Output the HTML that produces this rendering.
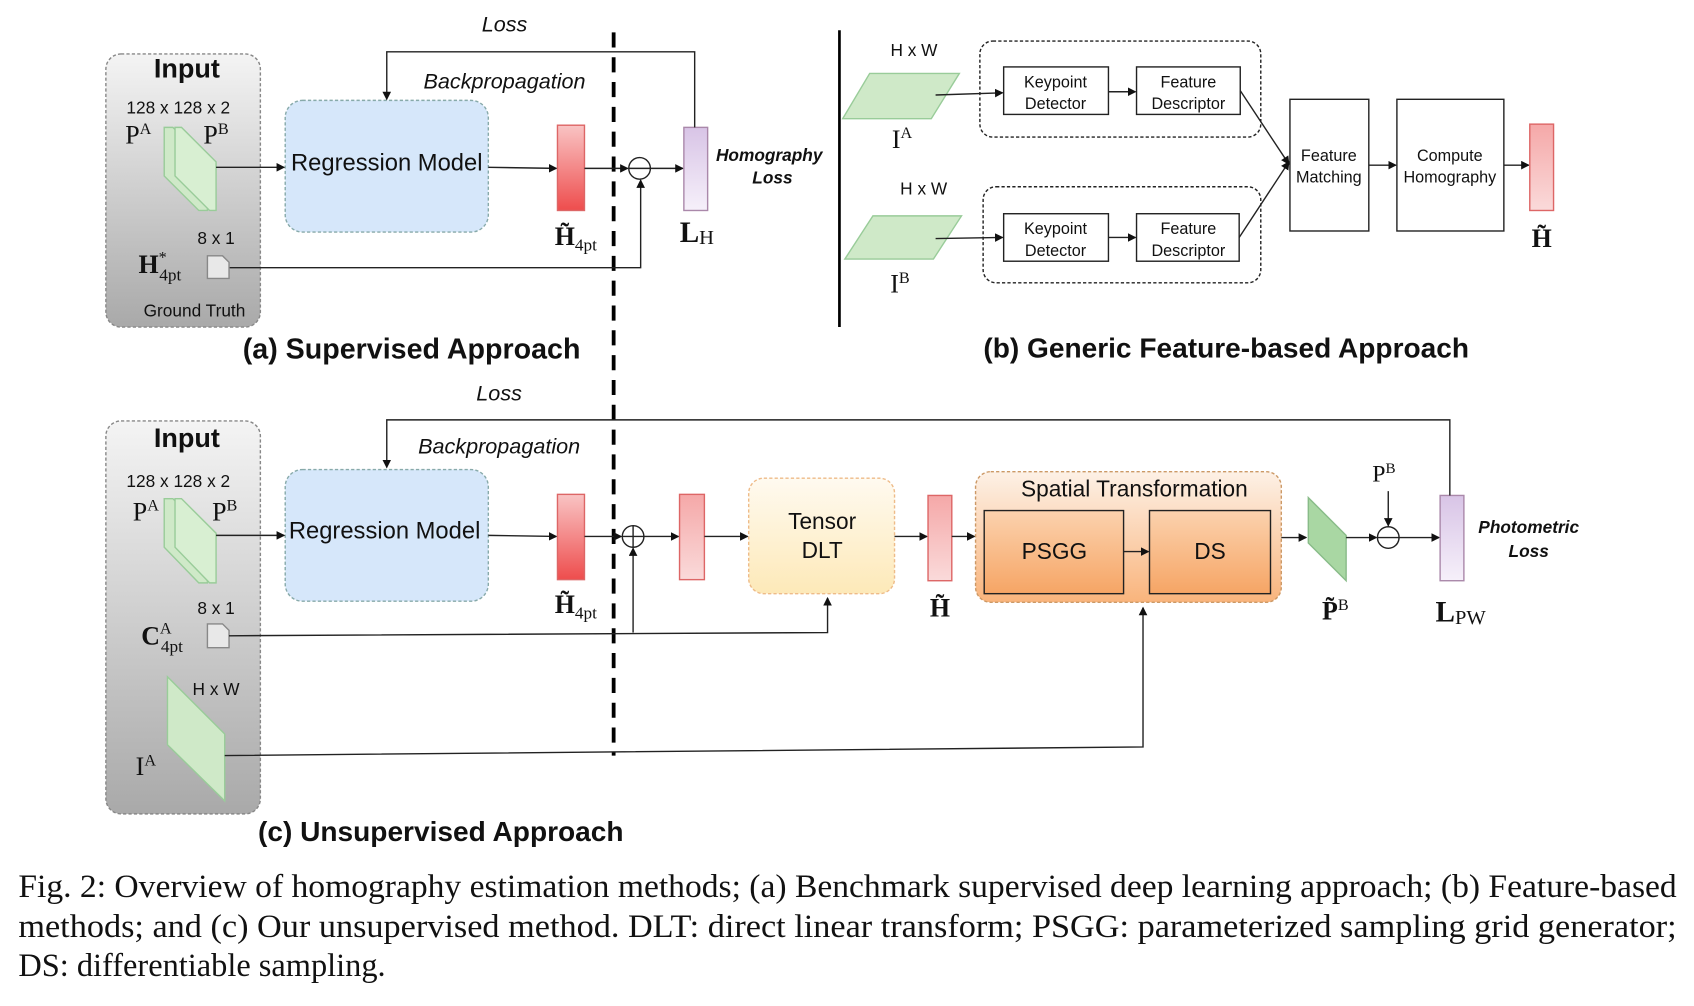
<!DOCTYPE html>
<html><head><meta charset="utf-8"><style>
html,body{margin:0;padding:0;background:#fff;}
svg{display:block;}
.s{font-family:"Liberation Sans",sans-serif;}
.r{font-family:"Liberation Serif",serif;}
</style></head><body>
<svg width="1694" height="1006" viewBox="0 0 1568 932" preserveAspectRatio="none" xmlns="http://www.w3.org/2000/svg">
<defs>
<linearGradient id="gin" x1="0" y1="0" x2="0" y2="1"><stop offset="0" stop-color="#f4f4f4"/><stop offset="1" stop-color="#a9a9a9"/></linearGradient>
<linearGradient id="gred" x1="0" y1="0" x2="0" y2="1"><stop offset="0" stop-color="#f9c4c4"/><stop offset="1" stop-color="#ee4d4d"/></linearGradient>
<linearGradient id="gpink" x1="0" y1="0" x2="0" y2="1"><stop offset="0" stop-color="#f5a8a8"/><stop offset="1" stop-color="#fadada"/></linearGradient>
<linearGradient id="gpur" x1="0" y1="0" x2="0" y2="1"><stop offset="0" stop-color="#d8c4e6"/><stop offset="1" stop-color="#f6f0fa"/></linearGradient>
<linearGradient id="gyel" x1="0" y1="0" x2="0" y2="1"><stop offset="0" stop-color="#fffaf0"/><stop offset="1" stop-color="#fde9b8"/></linearGradient>
<linearGradient id="gor" x1="0" y1="0" x2="0" y2="1"><stop offset="0" stop-color="#fdf1e6"/><stop offset="1" stop-color="#f9b47c"/></linearGradient>
<linearGradient id="gor2" x1="0" y1="0" x2="0" y2="1"><stop offset="0" stop-color="#fbd2ae"/><stop offset="1" stop-color="#f6a565"/></linearGradient>
<marker id="a" markerWidth="8" markerHeight="8" refX="7" refY="4" orient="auto" markerUnits="userSpaceOnUse"><path d="M0,0 L8,4 L0,8z" fill="#111"/></marker>
</defs>
<g stroke="#222" stroke-width="1.3" fill="none">
<line x1="568" y1="30" x2="568" y2="700" stroke="#000" stroke-width="3.5" stroke-dasharray="14,9"/>
<rect x="98" y="50" width="143" height="253" rx="14" fill="url(#gin)" stroke="#888" stroke-dasharray="3,2"/>
<rect x="264" y="93" width="188" height="122" rx="16" fill="#d6e7fa" stroke="#8aa" stroke-dasharray="3,2"/>
<polygon points="152,118 160,118 192,150 192,195 184,195 152,163" fill="#cfe9c8" stroke="#9c9"/>
<polygon points="162,118 168,118 200,150 200,195 194,195 162,163" fill="#d8efd2" stroke="#9c9"/>
<line x1="200" y1="155" x2="263" y2="155" marker-end="url(#a)"/>
<line x1="452" y1="155" x2="515" y2="156" marker-end="url(#a)"/>
<rect x="516" y="116" width="25" height="79" fill="url(#gred)" stroke="#d66"/>
<line x1="541" y1="156" x2="581" y2="156" marker-end="url(#a)"/>
<circle cx="592" cy="156" r="10"/>
<line x1="582" y1="156" x2="602" y2="156"/>
<line x1="602" y1="156" x2="632" y2="156" marker-end="url(#a)"/>
<rect x="633" y="118" width="22" height="77" fill="url(#gpur)" stroke="#a8a"/>
<polyline points="643,118 643,48 358,48 358,92" marker-end="url(#a)"/>
<polyline points="212,248 593,248 593,167" marker-end="url(#a)"/>
<path d="M192,237 L206,237 L212,243 L212,258 L192,258z" fill="#e8e8e8" stroke="#888"/>
<line x1="777" y1="28" x2="777" y2="303" stroke="#000" stroke-width="2.5"/>
<polygon points="805,68 888,68 862,110 780,110" fill="#cfe9c8" stroke="#9c9"/>
<polygon points="808,200 890,200 864,240 782,240" fill="#cfe9c8" stroke="#9c9"/>
<rect x="907" y="38" width="260" height="89" rx="12" stroke-dasharray="3,2"/>
<rect x="910" y="173" width="257" height="89" rx="12" stroke-dasharray="3,2"/>
<rect x="929" y="62" width="97" height="44" fill="#fff"/>
<rect x="1052" y="62" width="96" height="44" fill="#fff"/>
<rect x="929" y="198" width="97" height="44" fill="#fff"/>
<rect x="1052" y="198" width="95" height="44" fill="#fff"/>
<line x1="866" y1="88" x2="928" y2="86" marker-end="url(#a)"/>
<line x1="866" y1="221" x2="928" y2="220" marker-end="url(#a)"/>
<line x1="1026" y1="85" x2="1051" y2="85" marker-end="url(#a)"/>
<line x1="1026" y1="220" x2="1051" y2="220" marker-end="url(#a)"/>
<line x1="1148" y1="84" x2="1193" y2="152" marker-end="url(#a)"/>
<line x1="1147" y1="220" x2="1193" y2="150" marker-end="url(#a)"/>
<rect x="1194" y="92" width="73" height="122" fill="#fff"/>
<rect x="1293" y="92" width="99" height="122" fill="#fff"/>
<line x1="1267" y1="153" x2="1292" y2="153" marker-end="url(#a)"/>
<line x1="1392" y1="153" x2="1415" y2="153" marker-end="url(#a)"/>
<rect x="1416" y="115" width="22" height="80" fill="url(#gpink)" stroke="#d66"/>
<rect x="98" y="390" width="143" height="364" rx="14" fill="url(#gin)" stroke="#888" stroke-dasharray="3,2"/>
<rect x="264" y="435" width="188" height="122" rx="16" fill="#d6e7fa" stroke="#8aa" stroke-dasharray="3,2"/>
<polygon points="152,462 160,462 192,494 192,540 184,540 152,507" fill="#cfe9c8" stroke="#9c9"/>
<polygon points="162,462 168,462 200,494 200,540 194,540 162,507" fill="#d8efd2" stroke="#9c9"/>
<line x1="200" y1="496" x2="263" y2="496" marker-end="url(#a)"/>
<line x1="452" y1="496" x2="515" y2="497" marker-end="url(#a)"/>
<rect x="516" y="458" width="25" height="79" fill="url(#gred)" stroke="#d66"/>
<line x1="541" y1="497" x2="575" y2="497" marker-end="url(#a)"/>
<circle cx="586" cy="497" r="10"/>
<line x1="586" y1="487" x2="586" y2="507"/><line x1="576" y1="497" x2="596" y2="497"/>
<line x1="596" y1="497" x2="628" y2="497" marker-end="url(#a)"/>
<rect x="629" y="458" width="23" height="79" fill="url(#gpink)" stroke="#d66"/>
<line x1="652" y1="497" x2="692" y2="497" marker-end="url(#a)"/>
<rect x="693" y="443" width="135" height="107" rx="14" fill="url(#gyel)" stroke="#eb8" stroke-dasharray="3,2"/>
<line x1="828" y1="497" x2="858" y2="497" marker-end="url(#a)"/>
<rect x="859" y="459" width="22" height="79" fill="url(#gpink)" stroke="#d66"/>
<line x1="881" y1="497" x2="902" y2="497" marker-end="url(#a)"/>
<rect x="903" y="437" width="283" height="121" rx="14" fill="url(#gor)" stroke="#c96" stroke-dasharray="3,2"/>
<rect x="911" y="473" width="129" height="77" fill="url(#gor2)" stroke="#222"/>
<rect x="1064" y="473" width="112" height="77" fill="url(#gor2)" stroke="#222"/>
<line x1="1040" y1="511" x2="1063" y2="511" marker-end="url(#a)"/>
<line x1="1186" y1="498" x2="1209" y2="498" marker-end="url(#a)"/>
<polygon points="1211,461 1246,496 1246,538 1211,503" fill="#a9d7a3" stroke="#8b8"/>
<line x1="1246" y1="498" x2="1274" y2="498" marker-end="url(#a)"/>
<circle cx="1285" cy="498" r="10"/>
<line x1="1275" y1="498" x2="1295" y2="498"/>
<line x1="1285" y1="455" x2="1285" y2="487" marker-end="url(#a)"/>
<line x1="1295" y1="498" x2="1332" y2="498" marker-end="url(#a)"/>
<rect x="1333" y="459" width="22" height="79" fill="url(#gpur)" stroke="#a8a"/>
<polyline points="1342,459 1342,389 358,389 358,433" marker-end="url(#a)"/>
<path d="M192,578 L206,578 L212,584 L212,600 L192,600z" fill="#e8e8e8" stroke="#888"/>
<polyline points="212,589 766,586 766,554" marker-end="url(#a)"/>
<line x1="586" y1="586" x2="586" y2="508" marker-end="url(#a)"/>
<polygon points="155,627 208,680 208,742 155,690" fill="#cfe9c8" stroke="#9c9"/>
<polyline points="208,700 1058,692 1058,563" marker-end="url(#a)"/>
</g>
<g class="s" fill="#111" text-anchor="middle">
<text x="467" y="29" font-size="20" font-style="italic">Loss</text>
<text x="467" y="82" font-size="20" font-style="italic">Backpropagation</text>
<text x="173" y="72" font-size="25" font-weight="bold">Input</text>
<text x="165" y="105" font-size="16">128 x 128 x 2</text>
<text x="200" y="226" font-size="16">8 x 1</text>
<text x="180" y="293" font-size="16">Ground Truth</text>
<text x="358" y="158" font-size="22">Regression Model</text>
<text x="712" y="149" font-size="16" font-weight="bold" font-style="italic">Homography</text>
<text x="715" y="170" font-size="16" font-weight="bold" font-style="italic">Loss</text>
<text x="381" y="332" font-size="26.5" font-weight="bold">(a) Supervised Approach</text>
<text x="846" y="52" font-size="16">H x W</text>
<text x="855" y="180" font-size="16">H x W</text>
<text x="977" y="81" font-size="15">Keypoint</text><text x="977" y="101" font-size="15">Detector</text>
<text x="1100" y="81" font-size="15">Feature</text><text x="1100" y="101" font-size="15">Descriptor</text>
<text x="977" y="217" font-size="15">Keypoint</text><text x="977" y="237" font-size="15">Detector</text>
<text x="1100" y="217" font-size="15">Feature</text><text x="1100" y="237" font-size="15">Descriptor</text>
<text x="1230" y="149" font-size="15">Feature</text><text x="1230" y="169" font-size="15">Matching</text>
<text x="1342" y="149" font-size="15">Compute</text><text x="1342" y="169" font-size="15">Homography</text>
<text x="1135" y="331" font-size="26" font-weight="bold">(b) Generic Feature-based Approach</text>
<text x="462" y="371" font-size="20" font-style="italic">Loss</text>
<text x="462" y="420" font-size="20" font-style="italic">Backpropagation</text>
<text x="173" y="414" font-size="25" font-weight="bold">Input</text>
<text x="165" y="451" font-size="16">128 x 128 x 2</text>
<text x="200" y="569" font-size="16">8 x 1</text>
<text x="200" y="644" font-size="16">H x W</text>
<text x="356" y="499" font-size="22">Regression Model</text>
<text x="761" y="490" font-size="21">Tensor</text><text x="761" y="517" font-size="21">DLT</text>
<text x="1050" y="460" font-size="21">Spatial Transformation</text>
<text x="976" y="518" font-size="21">PSGG</text>
<text x="1120" y="518" font-size="21">DS</text>
<text x="1415" y="494" font-size="16" font-weight="bold" font-style="italic">Photometric</text>
<text x="1415" y="516" font-size="16" font-weight="bold" font-style="italic">Loss</text>
<text x="408" y="779" font-size="26" font-weight="bold">(c) Unsupervised Approach</text>
</g>
<g class="r" fill="#111" text-anchor="middle">
<text x="128" y="133" font-size="24">P<tspan font-size="15" dy="-9">A</tspan></text>
<text x="200" y="133" font-size="24">P<tspan font-size="15" dy="-9">B</tspan></text>
<text x="148" y="253" font-size="24" font-weight="bold">H<tspan font-size="15" dy="-10" font-weight="normal">*</tspan><tspan font-size="16" dy="17" dx="-7" font-weight="normal">4pt</tspan></text>
<text x="533" y="227" font-size="24" font-weight="bold">H̃<tspan font-size="16" dy="5" font-weight="normal">4pt</tspan></text>
<text x="645" y="224" font-size="27" font-weight="bold">L<tspan font-size="19" dy="2" font-weight="normal">H</tspan></text>
<text x="835" y="137" font-size="24">I<tspan font-size="15" dy="-9">A</tspan></text>
<text x="833" y="271" font-size="24">I<tspan font-size="15" dy="-9">B</tspan></text>
<text x="1427" y="229" font-size="24" font-weight="bold">H̃</text>
<text x="135" y="482" font-size="24">P<tspan font-size="15" dy="-9">A</tspan></text>
<text x="208" y="482" font-size="24">P<tspan font-size="15" dy="-9">B</tspan></text>
<text x="150" y="597" font-size="24" font-weight="bold">C<tspan font-size="15" dy="-10" font-weight="normal">A</tspan><tspan font-size="16" dy="17" dx="-10" font-weight="normal">4pt</tspan></text>
<text x="135" y="718" font-size="24">I<tspan font-size="15" dy="-9">A</tspan></text>
<text x="533" y="568" font-size="24" font-weight="bold">H̃<tspan font-size="16" dy="5" font-weight="normal">4pt</tspan></text>
<text x="870" y="571" font-size="24" font-weight="bold">H̃</text>
<text x="1236" y="574" font-size="24" font-weight="bold">P̃<tspan font-size="15" dy="-9" font-weight="normal">B</tspan></text>
<text x="1281" y="446" font-size="22">P<tspan font-size="14" dy="-8">B</tspan></text>
<text x="1352" y="576" font-size="27" font-weight="bold">L<tspan font-size="19" dy="2" font-weight="normal">PW</tspan></text>
</g>
<g class="r" fill="#111" font-size="30">
<text x="17" y="831" textLength="1535" lengthAdjust="spacingAndGlyphs">Fig. 2: Overview of homography estimation methods; (a) Benchmark supervised deep learning approach; (b) Feature-based</text>
<text x="17" y="868" textLength="1535" lengthAdjust="spacingAndGlyphs">methods; and (c) Our unsupervised method. DLT: direct linear transform; PSGG: parameterized sampling grid generator;</text>
<text x="17" y="904">DS: differentiable sampling.</text>
</g>
</svg>
</body></html>
